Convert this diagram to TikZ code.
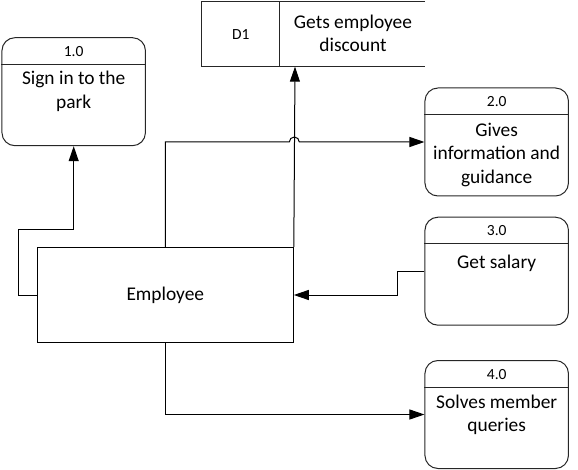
\documentclass[tikz,border=0pt]{standalone}
\usepackage{fontspec}
\setmainfont{Carlito}
\usetikzlibrary{arrows.meta,calc}
\begin{document}
\begin{tikzpicture}[x=1pt,y=-1pt,
  proc/.style={draw=black!85, rounded corners=13pt, minimum width=143.5pt, minimum height=108pt, inner sep=0pt, line width=1pt},
  hdr/.style={font=\fontsize{15.5}{18}\selectfont, inner sep=0pt},
  ttl/.style={font=\fontsize{19.4}{23.5}\selectfont, align=center, inner sep=0pt},
  sep/.style={draw=black!85, line width=1pt},
  flow/.style={draw=black, line width=1pt, -{Triangle[length=15pt,width=10pt]}}]
\useasboundingbox (0,0) rectangle (578,470);

% processes
\node[proc] (p1) at (73.7,91.7) {};
\draw[sep] (p1.west |- 0,64.3) -- (p1.east |- 0,64.3);
\node[hdr] (h1) at (73.7,51.5) {1.0};
\node[ttl] (t1) at (73.7,91.5) {Sign in to the\\park};

\node[proc] (p2) at (496.7,142) {};
\draw[sep] (p2.west |- 0,115) -- (p2.east |- 0,115);
\node[hdr] (h2) at (496.7,102) {2.0};
\node[ttl] (t2) at (496.7,154.5) {Gives\\information and\\guidance};

\node[proc] (p3) at (496.7,271.2) {};
\draw[sep] (p3.west |- 0,244) -- (p3.east |- 0,244);
\node[hdr] (h3) at (496.7,231) {3.0};
\node[ttl] (t3) at (496.7,263) {Get salary};

\node[proc] (p4) at (496.7,414.5) {};
\draw[sep] (p4.west |- 0,387) -- (p4.east |- 0,387);
\node[hdr] (h4) at (496.7,375) {4.0};
\node[ttl] (t4) at (496.7,415) {Solves member\\queries};

% external entity
\node[draw=black, line width=1pt, minimum width=256pt, minimum height=95.4pt, inner sep=0pt, ttl] (emp) at (165.3,295) {Employee};

% data store
\node[minimum width=223.3pt, minimum height=65pt, inner sep=0pt] (store) at (313.3,34.2) {};
\draw[sep] (store.north east) -- (store.north west) -- (store.south west) -- (store.south east);
\draw[sep] ($(store.north west)+(78.3,0)$) -- ($(store.south west)+(78.3,0)$);
\node[hdr] (d1) at (240.8,34.5) {D1};
\node[ttl] (dt) at (353,33.5) {Gets employee\\discount};
\coordinate (d1in) at (295,66.7);

% flows
\draw[flow] (emp.west) -- ++(-18,0) -- ++(0,-65) -| (p1.south);
\draw[flow] (emp.north east) -- (d1in);
\draw[flow] (emp.north) |- (289.3,142) arc[start angle=180,end angle=360,radius=5] -- (p2.west);
\draw[flow] (p3.west) -- ++(-27,0) |- (emp.east);
\draw[flow] (emp.south) |- (p4.west);
\end{tikzpicture}
\end{document}
